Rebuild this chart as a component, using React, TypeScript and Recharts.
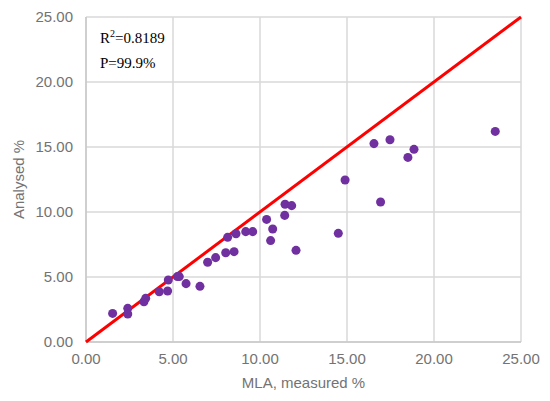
import React from 'react';
import { ScatterChart, Scatter, XAxis, YAxis, ZAxis, CartesianGrid } from 'recharts';

const measured = [
  1.53, 2.4, 2.4, 3.33, 3.43, 4.21, 4.69, 4.73, 5.25, 5.36, 5.75, 6.55, 6.99, 7.45,
  8.03, 8.51, 8.14, 8.62, 9.18, 9.58, 10.38, 10.61, 10.73, 11.42, 11.44, 11.82, 12.07,
  14.5, 14.89, 16.55, 17.47, 16.93, 18.5, 18.85, 23.52,
];
const analysed = [
  2.2, 2.59, 2.15, 3.1, 3.36, 3.87, 3.92, 4.77, 5.03, 5.03, 4.49, 4.28, 6.13, 6.49,
  6.87, 6.95, 8.05, 8.33, 8.49, 8.49, 9.43, 7.8, 8.69, 9.74, 10.6, 10.49, 7.05,
  8.36, 12.46, 15.26, 15.56, 10.77, 14.2, 14.82, 16.2,
];
const fitLine = [0, 25];
const ticks = [0, 5, 10, 15, 20, 25];

const points = measured.map((x, i) => ({ x, y: analysed[i] }));
const linePoints = fitLine.map((v) => ({ x: v, y: v }));

const font = 'Liberation Sans, Arial, sans-serif';
const tickStyle = { fill: '#737373', fontSize: 15, fontFamily: font };
const fmt = (v: number) => v.toFixed(2);

export default function App() {
  return (
    <div style={{ position: 'absolute', left: 0, top: 0, width: 550, height: 401, background: '#fff' }}>
      <ScatterChart width={550} height={401} margin={{ top: 17, right: 29, left: 0, bottom: 0 }}>
        <CartesianGrid stroke="#d9d9d9" strokeWidth={1.5} />
        <XAxis
          type="number"
          dataKey="x"
          domain={[0, 25]}
          ticks={ticks}
          tickFormatter={fmt}
          height={59}
          tickSize={0}
          tickMargin={11}
          tick={tickStyle}
          stroke="#c8c8c8"
          strokeWidth={1.5}
          label={{
            value: 'MLA, measured %',
            position: 'insideBottom',
            offset: 13,
            fill: '#737373',
            fontSize: 15,
            fontFamily: font,
          }}
        />
        <YAxis
          type="number"
          dataKey="y"
          domain={[0, 25]}
          ticks={ticks}
          tickFormatter={fmt}
          width={86}
          tickSize={0}
          tickMargin={13}
          tick={tickStyle}
          stroke="#c8c8c8"
          strokeWidth={1.5}
          label={{
            value: 'Analysed %',
            angle: -90,
            position: 'center',
            dx: -24,
            fill: '#737373',
            fontSize: 15,
            fontFamily: font,
          }}
        />
        <ZAxis range={[100, 100]} />
        <Scatter
          data={linePoints}
          line={{ stroke: '#ff0000', strokeWidth: 3 }}
          shape={() => null}
          isAnimationActive={false}
        />
        <Scatter data={points} fill="#7030a0" shape="circle" isAnimationActive={false} />
      </ScatterChart>
      <div
        style={{
          position: 'absolute',
          left: 100,
          top: 26,
          fontFamily: 'Liberation Serif, serif',
          fontSize: 15,
          color: '#000',
          lineHeight: '25px',
        }}
      >
        <div>
          R<sup style={{ fontSize: 10, verticalAlign: 'top', lineHeight: '16px' }}>2</sup>=0.8189
        </div>
        <div>P=99.9%</div>
      </div>
    </div>
  );
}
